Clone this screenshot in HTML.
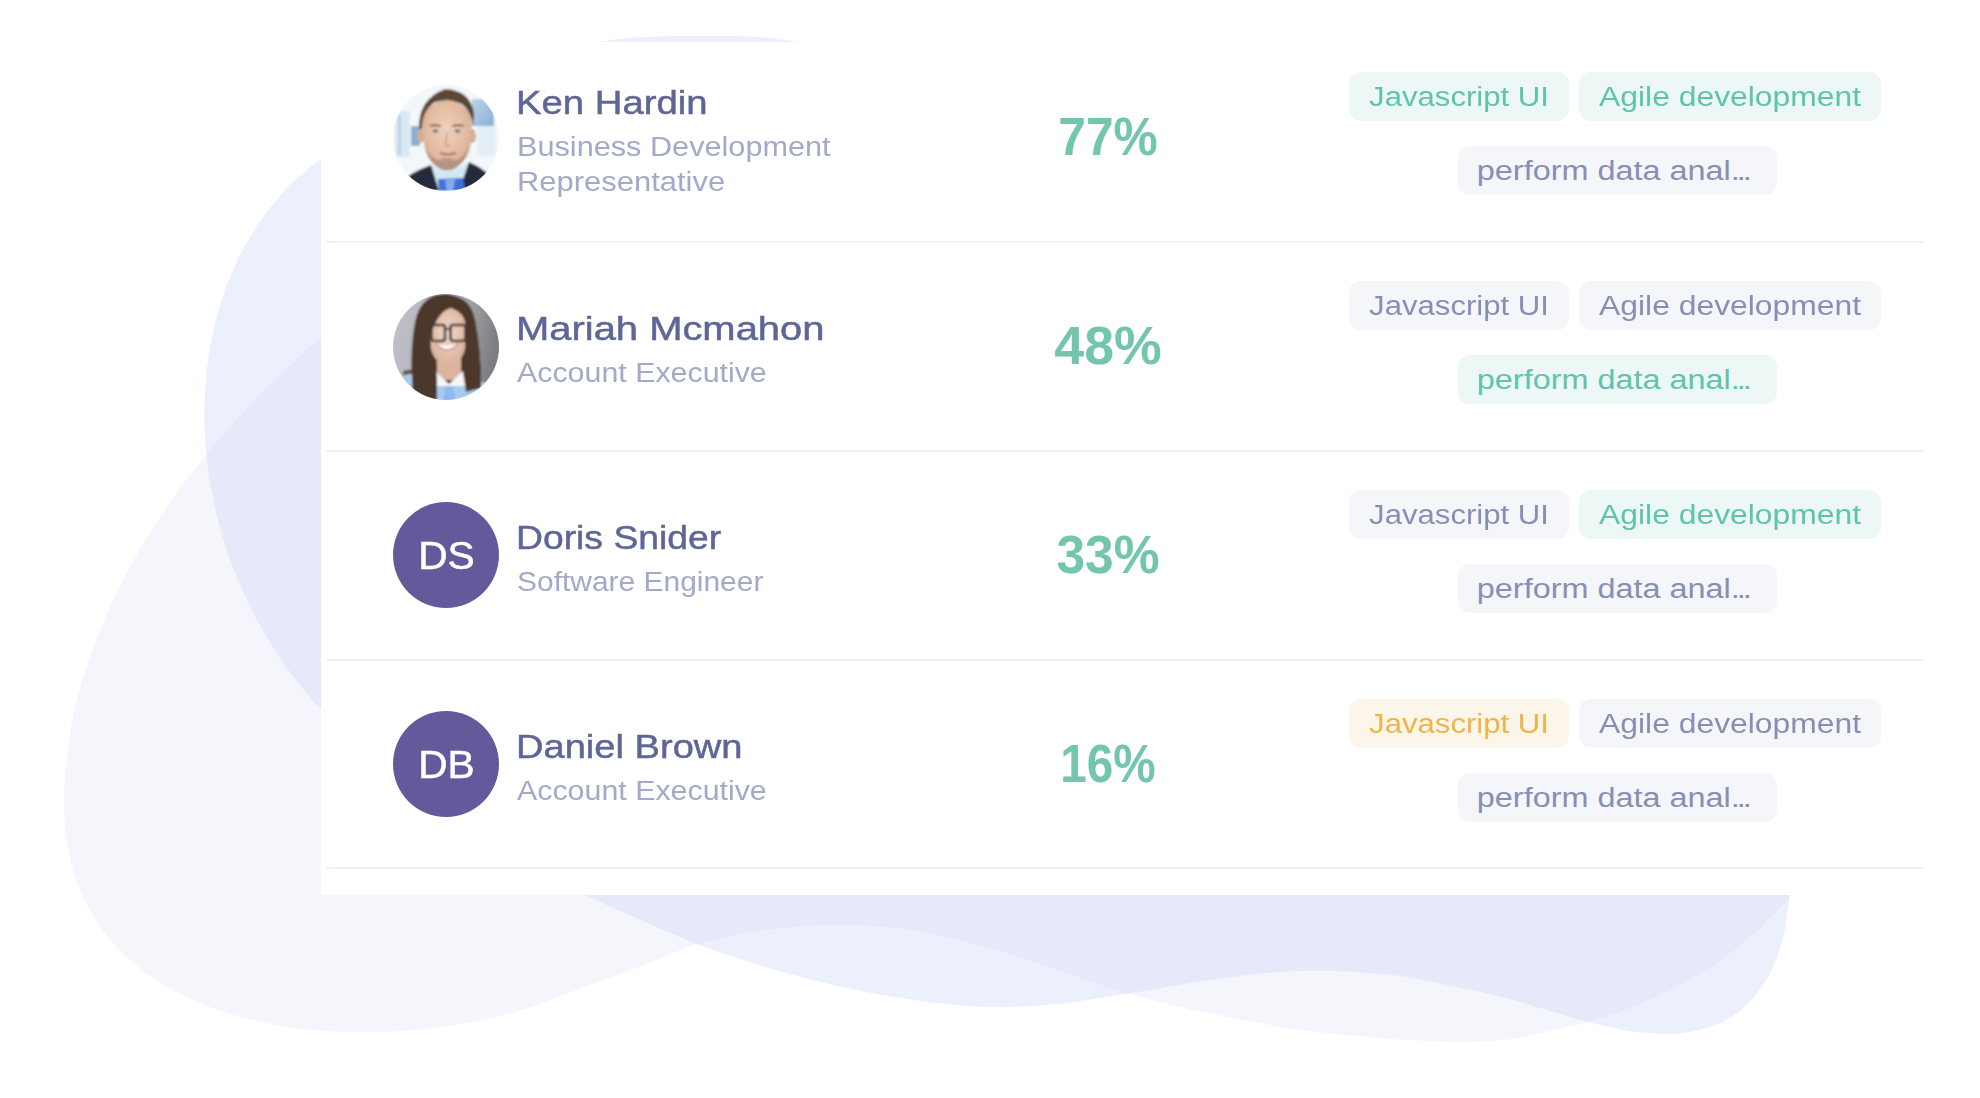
<!DOCTYPE html>
<html>
<head>
<meta charset="utf-8">
<style>
html,body{margin:0;padding:0;}
body{width:1980px;height:1098px;overflow:hidden;background:#ffffff;position:relative;font-family:"Liberation Sans",sans-serif;}
#bg{position:absolute;left:0;top:0;}
#card{position:absolute;left:321px;top:42px;width:1659px;height:853px;background:#ffffff;}
.div{position:absolute;left:326px;width:1598px;height:2px;background:#eef0f9;}
.av{position:absolute;left:393px;width:106px;height:106px;border-radius:50%;overflow:hidden;}
.av svg{display:block;}
.ini{background:#645a9b;color:#fff;font-size:38px;text-align:center;line-height:108px;-webkit-text-stroke:0.5px #fff;}
.ini span{display:inline-block;transform:scaleX(1.07);}
.name{position:absolute;left:515.5px;color:#5e6697;font-size:34px;line-height:40px;white-space:nowrap;-webkit-text-stroke:0.5px #5e6697;}
.sub{position:absolute;left:517px;color:#a3a9c9;font-size:27.5px;line-height:35px;white-space:nowrap;}
.name span,.sub span{display:inline-block;transform-origin:0 50%;}
.pct{position:absolute;left:1008px;width:200px;text-align:center;color:#74c5ad;font-size:53px;font-weight:bold;}
.pct span,.tag span{display:inline-block;transform-origin:50% 50%;}
.tag{position:absolute;height:49px;border-radius:12px;font-size:27px;line-height:50px;text-align:center;white-space:nowrap;}
.g{background:#edf8f6;color:#5ec4ad;}
.n{background:#f5f6fa;color:#898fb4;}
.o{background:#fcf6ea;color:#efb547;}
</style>
</head>
<body>
<svg id="bg" width="1980" height="1098" viewBox="0 0 1980 1098">
<defs>
<path id="pA" d="M698.0 36.0 C729.3 36.0 761.4 35.1 792.0 41.0 C828.8 48.1 864.9 61.3 900.0 75.0 C1000.9 114.3 1104.6 149.3 1200.0 200.0 C1371.2 291.0 1570.3 370.3 1700.0 500.0 C1770.3 570.3 1777.1 698.9 1800.0 800.0 C1807.0 831.0 1793.2 864.3 1789.6 896.4 C1789.0 901.6 1788.1 906.8 1787.4 912.0 C1786.5 918.2 1786.0 924.4 1784.7 930.5 C1783.3 937.1 1781.6 943.6 1779.4 950.0 C1776.8 957.7 1774.1 965.6 1770.3 972.8 C1766.5 980.1 1761.8 987.3 1756.6 993.7 C1751.2 1000.3 1745.3 1006.9 1738.4 1011.9 C1730.1 1017.9 1720.7 1023.2 1711.0 1026.5 C1699.4 1030.5 1686.8 1032.9 1674.6 1033.8 C1662.6 1034.7 1650.3 1033.0 1638.2 1032.0 C1632.1 1031.5 1626.0 1030.4 1620.0 1029.2 C1609.1 1027.1 1598.2 1024.8 1587.4 1022.0 C1578.2 1019.6 1569.2 1016.5 1560.0 1013.8 C1540.0 1008.0 1520.1 1001.9 1500.0 996.6 C1488.1 993.5 1476.1 990.9 1464.0 988.5 C1438.7 983.5 1413.5 977.3 1388.0 974.6 C1358.9 971.5 1329.3 970.1 1300.0 970.9 C1270.4 971.8 1240.9 975.8 1211.5 979.7 C1183.5 983.4 1155.9 989.2 1128.0 993.6 C1105.4 997.2 1082.8 1001.5 1060.0 1003.7 C1036.4 1006.0 1012.6 1007.6 989.0 1007.0 C963.8 1006.3 938.5 1003.4 913.5 999.9 C888.1 996.4 862.8 991.6 837.8 986.0 C812.3 980.3 787.0 973.4 762.0 966.0 C740.3 959.5 718.7 952.4 697.6 944.3 C676.7 936.3 656.3 926.8 635.8 917.8 C618.9 910.4 601.8 903.2 585.3 895.0 C556.6 880.6 526.2 868.4 500.0 850.0 C437.9 806.4 379.5 756.7 320.5 708.8 C314.8 704.2 310.6 698.0 305.9 692.4 C301.2 686.8 296.6 681.0 292.2 675.1 C287.7 669.2 283.3 663.2 279.2 657.0 C275.0 650.8 271.0 644.4 267.2 638.0 C263.3 631.5 259.6 625.0 256.1 618.3 C252.6 611.7 249.2 604.9 246.0 598.1 C242.8 591.2 239.8 584.2 236.9 577.2 C234.1 570.2 231.4 563.1 228.9 555.9 C226.4 548.8 224.0 541.6 221.9 534.3 C219.8 527.1 217.8 519.7 216.1 512.4 C214.3 505.0 212.8 497.6 211.4 490.2 C210.0 482.8 208.9 475.4 207.9 468.0 C206.9 460.6 206.2 453.1 205.6 445.7 C205.0 438.3 204.7 431.0 204.5 423.6 C204.3 416.3 204.4 408.9 204.6 401.6 C204.8 394.3 205.2 387.0 205.8 379.8 C206.4 372.6 207.3 365.5 208.3 358.4 C209.3 351.4 210.5 344.4 211.9 337.5 C213.3 330.7 214.9 323.8 216.7 317.1 C218.5 310.4 220.4 303.8 222.6 297.2 C224.7 290.8 227.1 284.4 229.7 278.1 C232.2 271.9 234.9 265.7 237.8 259.7 C240.7 253.8 243.7 247.9 247.0 242.2 C250.2 236.6 253.7 231.0 257.3 225.6 C260.9 220.3 264.6 215.0 268.5 209.9 C272.4 204.9 276.4 200.0 280.6 195.3 C284.8 190.6 289.1 186.1 293.6 181.8 C298.1 177.5 302.7 173.4 307.5 169.5 C312.2 165.6 316.9 161.6 322.1 158.3 C347.8 141.8 372.8 123.8 400.0 110.0 C432.1 93.7 465.8 79.6 500.0 68.0 C533.8 56.6 568.8 46.7 604.0 41.0 C634.8 36.0 666.7 36.0 698.0 36.0 Z"/>
<path id="pB" d="M321.0 337.0 C312.6 344.0 304.7 351.6 296.7 359.0 C288.9 366.2 281.2 373.6 273.6 381.0 C266.2 388.2 258.9 395.6 251.8 403.0 C244.9 410.2 238.1 417.6 231.4 425.0 C224.9 432.2 218.5 439.6 212.3 447.0 C206.2 454.2 200.3 461.6 194.5 469.0 C188.8 476.2 183.3 483.6 177.9 491.0 C172.7 498.2 167.6 505.6 162.6 513.0 C157.7 520.2 153.0 527.6 148.4 535.0 C143.9 542.2 139.6 549.6 135.4 557.0 C131.3 564.3 127.3 571.6 123.5 579.0 C119.8 586.3 116.2 593.6 112.7 601.0 C109.3 608.3 106.0 615.6 102.9 623.0 C99.8 630.3 97.0 637.6 94.2 645.0 C91.5 652.3 88.9 659.6 86.5 667.0 C84.1 674.3 81.9 681.6 79.8 689.0 C77.6 696.7 75.2 704.3 73.6 712.1 C71.9 720.0 71.0 728.2 69.9 736.2 C68.7 745.0 67.4 753.7 66.5 762.5 C65.5 771.6 64.6 780.8 64.3 789.9 C63.9 799.2 63.9 808.5 64.4 817.7 C64.9 826.8 65.8 835.9 67.3 844.9 C68.8 853.8 70.7 862.6 73.3 871.2 C75.8 879.6 78.9 888.0 82.5 896.0 C86.1 903.9 90.3 911.6 94.9 918.9 C99.5 926.2 104.7 933.2 110.2 939.8 C115.8 946.4 121.8 952.7 128.2 958.5 C134.6 964.4 141.4 969.8 148.5 974.9 C155.6 980.0 163.1 984.7 170.8 989.0 C178.5 993.4 186.6 997.3 194.7 1000.9 C202.9 1004.5 211.2 1007.7 219.7 1010.6 C228.2 1013.5 236.9 1016.0 245.6 1018.3 C254.3 1020.6 263.1 1022.5 272.0 1024.2 C280.8 1025.9 289.8 1027.3 298.7 1028.4 C307.6 1029.5 316.6 1030.4 325.5 1031.0 C334.4 1031.6 343.2 1032.0 352.1 1032.2 C361.0 1032.4 369.8 1032.3 378.7 1032.1 C387.5 1031.9 396.2 1031.4 405.0 1030.8 C413.7 1030.2 422.4 1029.4 431.1 1028.4 C439.8 1027.4 448.4 1026.2 457.0 1024.8 C465.7 1023.4 474.3 1021.7 482.9 1019.9 C491.5 1018.0 500.2 1016.0 508.7 1013.7 C517.3 1011.3 525.9 1008.7 534.4 1005.8 C543.1 1002.8 551.5 999.3 560.1 996.1 C585.3 986.8 610.6 977.8 635.8 968.3 C656.5 960.5 676.5 950.6 697.6 944.3 C718.6 938.0 740.3 933.5 762.0 930.5 C787.0 927.0 812.5 924.9 837.8 924.9 C863.0 924.9 888.6 926.7 913.5 930.5 C939.0 934.4 964.1 941.1 989.0 948.0 C1013.0 954.6 1036.4 963.2 1060.0 971.0 C1082.7 978.4 1105.0 987.1 1128.0 993.6 C1155.5 1001.4 1183.5 1008.0 1211.5 1013.8 C1245.0 1020.7 1278.6 1027.4 1312.5 1031.5 C1354.4 1036.6 1396.7 1039.6 1438.8 1041.6 C1459.2 1042.6 1479.7 1042.1 1500.0 1040.3 C1515.3 1038.9 1530.4 1035.2 1545.5 1032.0 C1559.5 1029.1 1573.6 1025.9 1587.4 1022.0 C1600.9 1018.2 1614.5 1014.2 1627.5 1009.0 C1646.0 1001.6 1664.5 993.6 1682.0 984.0 C1700.3 973.9 1718.4 962.8 1734.8 950.0 C1751.7 936.8 1766.6 921.0 1782.0 906.0 C1785.0 903.0 1788.1 899.8 1790.0 896.0 C1795.8 884.5 1801.8 872.6 1805.0 860.0 C1818.5 807.2 1851.6 750.8 1840.0 700.0 C1816.6 597.4 1788.7 451.9 1700.0 400.0 C1475.4 268.6 1169.6 186.7 900.0 150.0 C753.0 130.0 591.2 184.4 450.0 230.0 C398.2 246.7 363.7 301.0 321.0 337.0 Z"/>
<clipPath id="cA"><use href="#pA"/></clipPath>
</defs>
<use href="#pA" fill="#ecf0fc"/>
<use href="#pB" fill="#f5f6fb"/>
<use href="#pB" fill="#e5e9f9" clip-path="url(#cA)"/>
</svg>
<div id="card"></div>
<div class="div" style="top:241px"></div>
<div class="div" style="top:450px"></div>
<div class="div" style="top:659px"></div>
<div class="div" style="top:867px"></div>
<!-- row 1 -->
<div class="av" style="top:85px"><svg width="106" height="106" viewBox="0 0 106 106">
<defs><filter id="bm" x="-10%" y="-10%" width="120%" height="120%"><feGaussianBlur stdDeviation="0.9"/></filter>
<radialGradient id="mface" cx="0.5" cy="0.42" r="0.62"><stop offset="0" stop-color="#f0d2bd"/><stop offset="0.7" stop-color="#e0b89e"/><stop offset="1" stop-color="#c99d84"/></radialGradient>
<linearGradient id="mpane" x1="0" x2="1" y1="0" y2="1"><stop offset="0" stop-color="#b9d1ea"/><stop offset="1" stop-color="#8db1da"/></linearGradient></defs>
<g filter="url(#bm)">
<rect x="-4" y="-4" width="114" height="114" fill="#f3f7fa"/>
<rect x="2" y="26" width="15" height="46" fill="#dbe8f1"/>
<rect x="79" y="14" width="22" height="27" fill="url(#mpane)"/>
<rect x="84" y="41" width="18" height="30" fill="#e4eef6"/>
<rect x="18" y="41" width="9" height="20" fill="#8eafd0"/>
<rect x="5" y="30" width="3" height="40" fill="#bcd2e4"/>
<path d="M26 44 Q25 14 52 4 Q77 5 81 28 L80 42 Q78 26 69 19 Q56 14 42 17 Q31 24 29 44 Z" fill="#5a4739"/>
<ellipse cx="28" cy="51" rx="3.5" ry="7" fill="#d9ad92"/>
<ellipse cx="79.5" cy="51" rx="3.5" ry="7" fill="#d9ad92"/>
<path d="M29 40 Q31 17 54 15 Q77 17 78.5 40 L78 58 Q75 80 54 86.5 Q34 80 31 58 Z" fill="url(#mface)"/>
<path d="M32 62 Q36 82 54 86.5 Q72 82 76 62 Q71 74 62 75 Q54 71 46 75 Q37 74 32 62 Z" fill="#9d8270" opacity="0.6"/>
<path d="M37 41 Q42 39.5 48 41" stroke="#806350" stroke-width="1.8" fill="none"/>
<path d="M59 41 Q65 39.5 71 41" stroke="#806350" stroke-width="1.8" fill="none"/>
<ellipse cx="42.5" cy="46" rx="2.8" ry="1.6" fill="#55637e"/>
<ellipse cx="64.5" cy="46" rx="2.8" ry="1.6" fill="#55637e"/>
<path d="M54 47 L52.5 60 Q54.5 62 57 60" stroke="#c49a82" stroke-width="1.4" fill="none"/>
<path d="M47 68 Q55 71 63 68" stroke="#b06c5c" stroke-width="2.2" fill="none"/>
<path d="M38 80 Q54 92 76 77 L80 106 L32 106 Z" fill="#d3e7f5"/>
<path d="M8 97 Q18 87 38 80 L46 106 L5 106 Z" fill="#252a3c"/>
<path d="M76 77 Q88 82 96 90 L100 106 L66 106 Z" fill="#252a3c"/>
<path d="M45 94 L70 93 L72 106 L46 106 Z" fill="#3d71d8"/>
<path d="M52 95 L62 94 L60 106 L54 106 Z" fill="#86ace9"/>
</g>
</svg></div>
<div class="name" style="top:82px"><span style="transform:scaleX(1.1259)">Ken Hardin</span></div>
<div class="sub" style="top:129px"><span style="transform:scaleX(1.115)">Business Development</span></div>
<div class="sub" style="top:164px"><span style="transform:scaleX(1.125)">Representative</span></div>
<div class="pct" style="top:106px"><span style="transform:scaleX(0.937)">77%</span></div>
<div class="tag g" style="left:1349px;top:72px;width:220px"><span style="transform:scaleX(1.153)">Javascript UI</span></div>
<div class="tag g" style="left:1579px;top:72px;width:302px"><span style="transform:scaleX(1.18)">Agile development</span></div>
<div class="tag n" style="left:1458px;top:146px;width:319px"><span style="transform:translateX(-4.5px) scaleX(1.2)">perform data anal<b style="font-weight:normal;letter-spacing:-2.5px">...</b></span></div>
<!-- row 2 -->
<div class="av" style="top:294px"><svg width="106" height="106" viewBox="0 0 106 106">
<defs><filter id="bw" x="-10%" y="-10%" width="120%" height="120%"><feGaussianBlur stdDeviation="0.8"/></filter>
<linearGradient id="wg" x1="0" x2="1" y1="0" y2="0.2"><stop offset="0" stop-color="#c3c4cb"/><stop offset="0.6" stop-color="#adaeb5"/><stop offset="1" stop-color="#7c7d83"/></linearGradient>
<radialGradient id="wface" cx="0.5" cy="0.45" r="0.62"><stop offset="0" stop-color="#f2d8c9"/><stop offset="1" stop-color="#d9ae99"/></radialGradient></defs>
<g filter="url(#bw)">
<rect x="-4" y="-4" width="114" height="114" fill="url(#wg)"/>
<path d="M10 77 L28 74 L28 78 L10 81 Z" fill="#5e5048"/>
<path d="M20 104 Q16 60 22 28 Q28 0 52 0 Q78 2 82 26 Q88 56 88 94 L68 96 L44 104 Z" fill="#4b382b"/>
<path d="M44 58 L68 58 L68 86 L44 86 Z" fill="#dcb3a0"/>
<path d="M37 38 Q37 14 55 13 Q73 14 73 38 L72 55 Q68 70 55 71 Q42 70 38 55 Z" fill="url(#wface)"/>
<path d="M35 38 Q38 8 56 8 Q74 9 75 32 Q70 18 58 14 Q46 16 37 42 Z" fill="#4b382b"/>
<path d="M38.5 33 Q38.5 31 41 31 L50 31 Q52 31 52 33 L52 44 Q52 47 49 47 L42 47 Q38.5 47 38.5 44 Z" fill="none" stroke="#403a3a" stroke-width="2.6"/>
<path d="M57.5 33 Q57.5 31 60 31 L70 31 Q72.5 31 72.5 33 L72.5 44 Q72.5 47 69 47 L61 47 Q57.5 47 57.5 44 Z" fill="none" stroke="#403a3a" stroke-width="2.6"/>
<path d="M52 35 L57.5 35" stroke="#403a3a" stroke-width="2"/>
<path d="M44 50 Q54 60 64 50 Q54 53 44 50 Z" fill="#ffffff"/>
<path d="M43 50 Q54 62 65 50" stroke="#c68a86" stroke-width="1.5" fill="none"/>
<path d="M-4 92 Q6 80 24 80 L34 110 L-4 110 Z" fill="#a7caee"/>
<path d="M41 76 L56 90 L71 76 L73 92 L56 97 L40 92 Z" fill="#f7f7f9"/>
<path d="M36 92 L56 92 L76 92 L90 88 Q104 92 110 100 L110 110 L30 110 Z" fill="#a7caee"/>
<path d="M52 92 L60 92 L63 110 L50 110 Z" fill="#90b9ea"/>
<path d="M20 104 Q17 60 23 30 L37 30 Q36 52 41 68 Q44 76 44 84 L44 108 L20 108 Z" fill="#4b382b"/>
<path d="M73 30 L82 26 Q88 56 88 94 L73 98 L70 78 Q72 62 73 30 Z" fill="#4b382b"/>
</g>
</svg></div>
<div class="name" style="top:308px"><span style="transform:scaleX(1.1744)">Mariah Mcmahon</span></div>
<div class="sub" style="top:355px"><span style="transform:scaleX(1.104)">Account Executive</span></div>
<div class="pct" style="top:315px"><span style="transform:scaleX(1.012)">48%</span></div>
<div class="tag n" style="left:1349px;top:281px;width:220px"><span style="transform:scaleX(1.153)">Javascript UI</span></div>
<div class="tag n" style="left:1579px;top:281px;width:302px"><span style="transform:scaleX(1.18)">Agile development</span></div>
<div class="tag g" style="left:1458px;top:355px;width:319px"><span style="transform:translateX(-4.5px) scaleX(1.2)">perform data anal<b style="font-weight:normal;letter-spacing:-2.5px">...</b></span></div>
<!-- row 3 -->
<div class="av ini" style="top:502px"><span>DS</span></div>
<div class="name" style="top:517px"><span style="transform:scaleX(1.0968)">Doris Snider</span></div>
<div class="sub" style="top:564px"><span style="transform:scaleX(1.089)">Software Engineer</span></div>
<div class="pct" style="top:524px"><span style="transform:scaleX(0.973)">33%</span></div>
<div class="tag n" style="left:1349px;top:490px;width:220px"><span style="transform:scaleX(1.153)">Javascript UI</span></div>
<div class="tag g" style="left:1579px;top:490px;width:302px"><span style="transform:scaleX(1.18)">Agile development</span></div>
<div class="tag n" style="left:1458px;top:564px;width:319px"><span style="transform:translateX(-4.5px) scaleX(1.2)">perform data anal<b style="font-weight:normal;letter-spacing:-2.5px">...</b></span></div>
<!-- row 4 -->
<div class="av ini" style="top:711px"><span>DB</span></div>
<div class="name" style="top:726px"><span style="transform:scaleX(1.1201)">Daniel Brown</span></div>
<div class="sub" style="top:773px"><span style="transform:scaleX(1.104)">Account Executive</span></div>
<div class="pct" style="top:733px"><span style="transform:scaleX(0.9)">16%</span></div>
<div class="tag o" style="left:1349px;top:699px;width:220px"><span style="transform:scaleX(1.153)">Javascript UI</span></div>
<div class="tag n" style="left:1579px;top:699px;width:302px"><span style="transform:scaleX(1.18)">Agile development</span></div>
<div class="tag n" style="left:1458px;top:773px;width:319px"><span style="transform:translateX(-4.5px) scaleX(1.2)">perform data anal<b style="font-weight:normal;letter-spacing:-2.5px">...</b></span></div>
</body>
</html>
